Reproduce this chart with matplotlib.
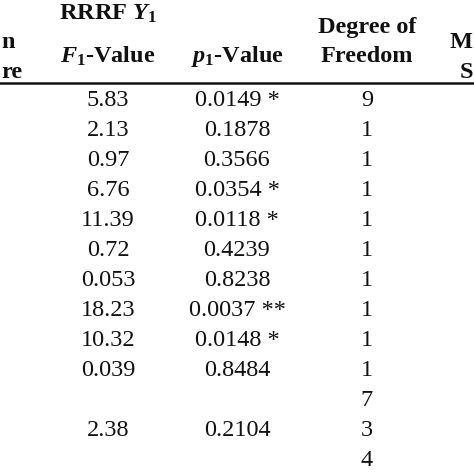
import matplotlib
matplotlib.use("Agg")
import matplotlib.pyplot as plt

plt.rcParams["mathtext.fontset"] = "custom"
plt.rcParams["mathtext.rm"] = "Liberation Serif"
plt.rcParams["mathtext.it"] = "Liberation Serif:italic:bold"
plt.rcParams["mathtext.bf"] = "Liberation Serif:bold"

f_values = ["5.83", "2.13", "0.97", "6.76", "11.39", "0.72", "0.053", "18.23", "10.32", "0.039", "", "2.38", ""]
p_values = ["0.0149 *", "0.1878", "0.3566", "0.0354 *", "0.0118 *", "0.4239", "0.8238", "0.0037 **", "0.0148 *", "0.8484", "", "0.2104", ""]
dof = ["9", "1", "1", "1", "1", "1", "1", "1", "1", "1", "7", "3", "4"]

W = H = 474
fig = plt.figure(figsize=(4.74, 4.74), dpi=100)
fig.patch.set_facecolor("white")
ax = fig.add_axes([0, 0, 1, 1])
ax.set_xlim(0, W)
ax.set_ylim(H, 0)
ax.axis("off")

fam = ["Liberation Serif", "DejaVu Serif"]
fs = 17.5
kw = dict(family=fam, fontsize=fs, color="#111111", va="center", ha="center")
bold = dict(kw, fontweight="bold")

ax.text(108, 14, r"RRRF $\mathit{Y}_{\mathregular{1}}$", **bold)
ax.text(108, 56, r"$\mathit{F}_{\mathregular{1}}$-Value", **bold)
ax.text(237, 56, r"$\mathit{p}_{\mathregular{1}}$-Value", **bold)
ax.text(367, 27, "Degree of", **bold)
ax.text(367, 56, "Freedom", **bold)
ax.text(1, 42, "n", **dict(bold, ha="left"))
ax.text(1, 72, "re", **dict(bold, ha="left"))
ax.text(473, 42, "M", **dict(bold, ha="right"))
ax.text(473, 72, "S", **dict(bold, ha="right"))

ax.plot([0, W], [83, 83], color="#111111", lw=1.8)

y0, dy = 100, 30
for i, (fv, pv, d) in enumerate(zip(f_values, p_values, dof)):
    y = y0 + i * dy
    ax.text(108, y, fv, **kw)
    ax.text(237, y, pv, **kw)
    ax.text(367, y, d, **kw)

fig.savefig("out.png", dpi=100, facecolor="white")
